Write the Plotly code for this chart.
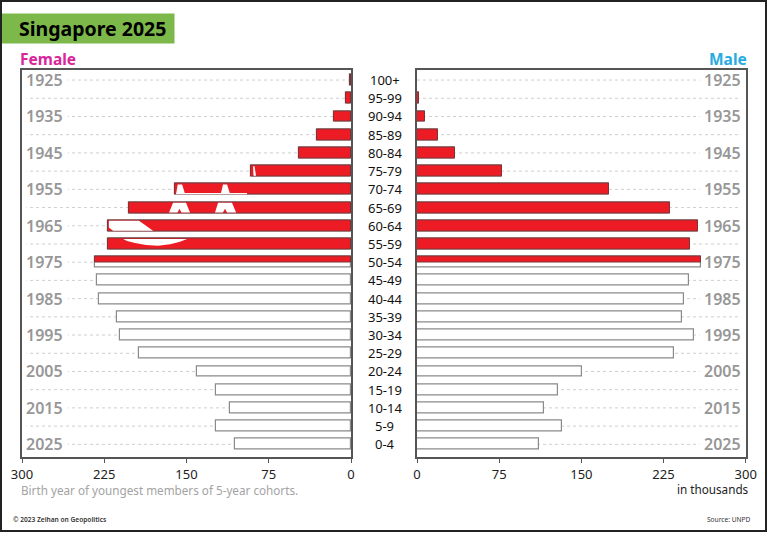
import plotly.graph_objects as go

# Population by five-year age cohort, in thousands
age_groups = ["100+", "95-99", "90-94", "85-89", "80-84", "75-79", "70-74", "65-69", "60-64", "55-59", "50-54",
              "45-49", "40-44", "35-39", "30-34", "25-29", "20-24", "15-19", "10-14", "5-9", "0-4"]
female = [0.6, 4.9, 15.2, 31.3, 47.4, 90.9, 160.5, 202.4, 221.6, 221.6, 233.7,
          231.6, 229.8, 213.7, 210.3, 193.0, 140.4, 123.1, 110.3, 123.1, 106.0]
male = [0, 1.8, 7.3, 19.1, 34.7, 77.5, 175.4, 230.7, 256.8, 249.2, 259.0,
        248.6, 243.8, 242.0, 252.6, 235.0, 150.2, 128.3, 116.1, 132.5, 111.2]
birth_years = ["1925", None, "1935", None, "1945", None, "1955", None, "1965", None, "1975",
               None, "1985", None, "1995", None, "2005", None, "2015", None, "2025"]
x_ticks = [0, 75, 150, 225, 300]

W, H = 768, 533
RED, BAR_GREY, RED_EDGE = "#ED1C24", "#8A8A8A", "#7D3438"
SANS = "Noto Sans, sans-serif"
FLAG_ROWS = 11      # cohorts from the top that carry the red band in full
BAR_H = 0.6
rows = [len(age_groups) - 1 - i for i in range(len(age_groups))]

fig = go.Figure()


def add_side(values, xaxis, yaxis):
    fig.add_trace(go.Bar(
        x=values, y=rows, orientation="h", width=BAR_H, xaxis=xaxis, yaxis=yaxis,
        marker=dict(color="white", line=dict(color=BAR_GREY, width=1.2)),
        showlegend=False, hoverinfo="skip"))
    # Red band: the lowest banded cohort is only filled across its upper half
    widths = [BAR_H] * (FLAG_ROWS - 1) + [0.32]
    offsets = [-BAR_H / 2] * (FLAG_ROWS - 1) + [-0.02]
    fig.add_trace(go.Bar(
        x=values[:FLAG_ROWS], y=rows[:FLAG_ROWS], orientation="h",
        width=widths, offset=offsets, xaxis=xaxis, yaxis=yaxis,
        marker=dict(color=RED, line=dict(color=RED_EDGE, width=1)),
        showlegend=False, hoverinfo="skip"))


add_side(female, "x", "y")
add_side(male, "x2", "y2")

shapes = []

# Dotted row guides behind the bars; rows with a year label stop short of it
for row, year in zip(rows, birth_years):
    reach = 258 if year else 296
    for xr, yr in (("x", "y"), ("x2", "y2")):
        shapes.append(dict(type="line", xref=xr, yref=yr, x0=0, x1=reach, y0=row, y1=row, layer="below",
                           line=dict(color="#CFCFCF", width=1, dash="dot")))

# Crescent and stars of the flag, cut out of the female bars (thousands, row)
emblem = [
    [(89.3, 15.27), (88.0, 15.27), (86.6, 14.75), (88.9, 14.75)],
    [(158.0, 14.27), (154.0, 14.27), (151.3, 13.74), (159.5, 13.74)],
    [(116.7, 14.27), (113.0, 14.27), (110.3, 13.74), (118.8, 13.74)],
    [(159.5, 13.8), (94.8, 13.8), (94.8, 13.73), (159.5, 13.73)],
    [(162.3, 13.27), (150.4, 13.27), (146.8, 12.73), (154.6, 12.73), (156.4, 12.93), (158.2, 12.73), (165.9, 12.73)],
    [(121.2, 13.27), (108.5, 13.27), (104.8, 12.73), (113.0, 12.73), (114.9, 12.93), (116.8, 12.73), (124.0, 12.73)],
    [(220.8, 12.27), (193.3, 12.27), (180.5, 11.73), (217.0, 11.73), (220.8, 11.9)],
    [(207.8, 11.27), (149.5, 11.27), (155.9, 11.12), (165.0, 10.98), (175.9, 10.9),
     (186.9, 10.95), (196.9, 11.06), (204.2, 11.17)],
]
for poly in emblem:
    path = "M " + " L ".join(f"{v},{r}" for v, r in poly) + " Z"
    shapes.append(dict(type="path", xref="x", yref="y", path=path, fillcolor="white",
                       line=dict(width=0), layer="above"))

# Title plate and outer frame
shapes.append(dict(type="rect", xref="paper", yref="paper", x0=2 / W, x1=174.5 / W,
                   y0=1 - 43.5 / H, y1=1 - 13.5 / H, fillcolor="#7DB84A", line=dict(width=0), layer="below"))
shapes.append(dict(type="rect", xref="paper", yref="paper", x0=1 / W, x1=766 / W,
                   y0=1 - 531 / H, y1=1 - 1 / H, line=dict(color="#222222", width=2), layer="below"))


def page_text(text, px, py, size, color, anchor="left", family=SANS, weight=None):
    font = dict(size=size, color=color, family=family)
    if weight:
        font["weight"] = weight
    return dict(text=text, xref="paper", yref="paper", x=px / W, y=1 - py / H, showarrow=False,
                xanchor=anchor, yanchor="middle", font=font)


annotations = [
    page_text("Singapore 2025", 17, 28, 19.5, "#000000", weight=700),
    page_text("Female", 18, 59, 15.5, "#D8269C", weight=700),
    page_text("Male", 749, 59, 15.5, "#29ABE2", anchor="right", weight=700),
    page_text("Birth year of youngest members of 5-year cohorts.", 19, 489.5, 11.7, "#A3A3A3"),
    page_text("in thousands", 750.5, 488.5, 11.7, "#222222", anchor="right"),
    page_text("© 2023 Zeihan on Geopolitics", 11, 519.5, 6.6, "#333333", weight=600),
    page_text("Source: UNPD", 752, 519.5, 6.6, "#333333", anchor="right"),
]
for row, label, year in zip(rows, age_groups, birth_years):
    annotations.append(dict(text=label, xref="paper", yref="y", x=384.5 / W, y=row, showarrow=False,
                            xanchor="center", yanchor="middle", font=dict(size=13, color="#111111", family=SANS)))
    if year:
        for px, anchor, yr in ((65, "right", "y"), (743, "right", "y2")):
            annotations.append(dict(text=year, xref="paper", yref=yr, x=px / W, y=row, showarrow=False,
                                    xanchor=anchor, yanchor="middle",
                                    font=dict(size=16, color="#979797", family=SANS, weight=600)))

axis_style = dict(showgrid=False, zeroline=False, showline=True, mirror=True, linecolor="#555555", linewidth=1.5,
                  ticks="outside", ticklen=5, tickcolor="#555555", tickwidth=1.2,
                  tickvals=x_ticks, tickfont=dict(size=13, color="#222222", family=SANS))
y_style = dict(range=[-0.68, 20.58], domain=[1 - 456.7 / H, 1 - 69.5 / H], showgrid=False, zeroline=False,
               showticklabels=False, ticks="", showline=True, mirror=True, linecolor="#555555", linewidth=1.5)

fig.update_layout(
    width=W, height=H, margin=dict(l=0, r=0, t=0, b=0, autoexpand=False), autosize=False,
    paper_bgcolor="white", plot_bgcolor="rgba(0,0,0,0)", bargap=0, barmode="overlay",
    xaxis=dict(domain=[22 / W, 351 / W], range=[300, 0], anchor="y", **axis_style),
    xaxis2=dict(domain=[417 / W, 745.7 / W], range=[0, 300], anchor="y2", **axis_style),
    yaxis=dict(anchor="x", **y_style),
    yaxis2=dict(anchor="x2", **y_style),
    shapes=shapes, annotations=annotations,
)

fig.write_html("out.html", config=dict(displayModeBar=False))
